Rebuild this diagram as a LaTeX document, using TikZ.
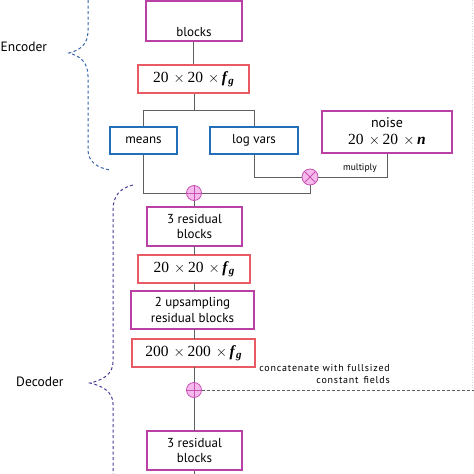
\documentclass[tikz,border=0pt]{standalone}
\usepackage{fontspec}
\setmainfont{PT Sans}
\newfontfamily\numserif{Liberation Serif}
\usetikzlibrary{calc}
\definecolor{magbox}{RGB}{185,65,165}
\definecolor{redbox}{RGB}{232,90,100}
\definecolor{bluebox}{RGB}{35,110,185}
\definecolor{wire}{RGB}{95,95,95}
\definecolor{encbrace}{RGB}{55,100,170}
\definecolor{decbrace}{RGB}{70,60,150}
\definecolor{opfill}{RGB}{245,185,235}
\definecolor{opline}{RGB}{200,80,180}
\newcommand{\fgdim}[2]{{\numserif #1\,\,$\times$\,#2\,\,$\times$\,\textbf{\textit{f}}\raisebox{-2.5pt}{\fontsize{11}{11}\selectfont\textbf{\textit{g}}}}}
\tikzset{
  box/.style={draw, line width=1.5pt, inner sep=0pt, align=center, font=\fontsize{13}{15.5}\selectfont},
  magb/.style={box, draw=magbox},
  redb/.style={box, draw=redbox, font=\fontsize{15.5}{17}\selectfont},
  blueb/.style={box, draw=bluebox},
  wirel/.style={draw=wire, line width=1pt},
  opnode/.style={circle, draw=opline, fill=opfill, line width=0.8pt, minimum size=#1, inner sep=0pt},
  bracel/.style={dashed, line width=1pt, dash pattern=on 3pt off 2.5pt},
}
\begin{document}
\begin{tikzpicture}[x=1pt,y=-1pt]
\useasboundingbox (0,0) rectangle (474,474);
\fill[white] (0,0) rectangle (474,474);
% faint right dotted line
\draw[gray!30, dotted, line width=0.6pt] (472,0) -- (472,390);
% boxes
\node[magb, minimum width=96pt, minimum height=40pt] (blk1) at (194,21) {};
\node[font=\fontsize{13}{15.5}\selectfont] (blk1t) at (194,32) {blocks};
\node[redb, minimum width=111pt, minimum height=28pt] (fg1) at (193.5,79) {\fgdim{20}{20}};
\node[blueb, minimum width=67pt, minimum height=27pt] (means) at (143.5,140.5) {means};
\node[blueb, minimum width=88pt, minimum height=27pt] (logv) at (254,140.5) {log vars};
\node[magb, minimum width=130pt, minimum height=42pt, font=\fontsize{14}{17}\selectfont] (noise) at (387,132) {noise\\{\numserif\fontsize{15.5}{17}\selectfont 20\,\,$\times$\,20\,\,$\times$\,\textbf{\textit{n}}}};
\node[opnode=16pt] (mult) at (310,177) {};
\draw[opline, line width=0.8pt] ($(mult.center)+(-5.2,-5.2)$) -- ($(mult.center)+(5.2,5.2)$) ($(mult.center)+(-5.2,5.2)$) -- ($(mult.center)+(5.2,-5.2)$);
\node[opnode=15pt] (plus1) at (194,193) {};
\draw[opline, line width=0.8pt] (plus1.north) -- (plus1.south) (plus1.west) -- (plus1.east);
\node[magb, minimum width=95pt, minimum height=39pt] (res1) at (194.5,226.5) {3 residual\\blocks};
\node[redb, minimum width=112pt, minimum height=28pt] (fg2) at (194,269) {\fgdim{20}{20}};
\node[magb, minimum width=123pt, minimum height=38pt] (up) at (192.5,310) {2 upsampling\\residual blocks};
\node[redb, minimum width=123pt, minimum height=28pt] (fg3) at (193.5,353) {\fgdim{200}{200}};
\node[opnode=15pt] (plus2) at (194,390) {};
\node[magb, minimum width=95pt, minimum height=39pt] (res2) at (194.5,450.5) {3 residual\\blocks};
\coordinate (split) at (194,110);
\coordinate (bot) at (194,474);
\coordinate (cright) at (474,390);
% wires
\draw[wirel] (blk1.south -| fg1.north) -- (fg1.north);
\draw[wirel] (fg1.south -| split) -- (split);
\draw[wirel] (means.north) -- (means.north |- split) -- (logv.north |- split) -- (logv.north);
\draw[wirel] (logv.south) |- (mult.west);
\draw[wirel] (mult.east) -| (noise.south);
\draw[wirel] (means.south) |- (plus1.west);
\draw[wirel] (mult.south) |- (plus1.east);
\draw[wirel] (plus1.south) -- (res1.north -| plus1.south);
\draw[wirel] (194,246) -- (194,255);
\draw[wirel] (194,283) -- (194,291);
\draw[wirel] (194,329) -- (194,339);
\draw[wirel] (194,367) -- (plus2.north);
\draw[wirel] (plus2.south) -- (194,431);
\draw[wirel] (res2.south -| bot) -- (bot);
\draw[wire, dashed, line width=0.9pt, dash pattern=on 3pt off 2pt] (plus2.east) -- (cright);
\draw[opline, line width=0.8pt] (plus2.north) -- (plus2.south) (plus2.west) -- (plus2.east);
% labels
\node[font=\fontsize{9.5}{11}\selectfont] (multl) at (360,168) {multiply};
\node[font=\fontsize{10}{12}\selectfont\addfontfeature{LetterSpace=8}, align=right, anchor=north east, inner sep=0pt] (concat) at (390,364) {concatenate with fullsized\\constant\enspace fields};
\node[font=\fontsize{13.5}{15}\selectfont, anchor=west, inner sep=0pt] (enc) at (0.5,47) {Encoder};
\node[font=\fontsize{13.5}{15}\selectfont, anchor=west, inner sep=0pt] (dec) at (16,382) {Decoder};
% braces
\draw[bracel, encbrace] (88,0) -- (88,30) .. controls (88,45) and (80,50) .. (69,53)
  .. controls (80,56) and (88,62) .. (88,76) -- (88,150) .. controls (88,162) and (98,168) .. (110,170);
\draw[bracel, decbrace] (133,185) .. controls (120,188) and (113,196) .. (113,210) -- (113,362)
  .. controls (113,374) and (103,380) .. (90,383) .. controls (103,386) and (113,392) .. (113,404) -- (113,474);
\end{tikzpicture}
\end{document}
